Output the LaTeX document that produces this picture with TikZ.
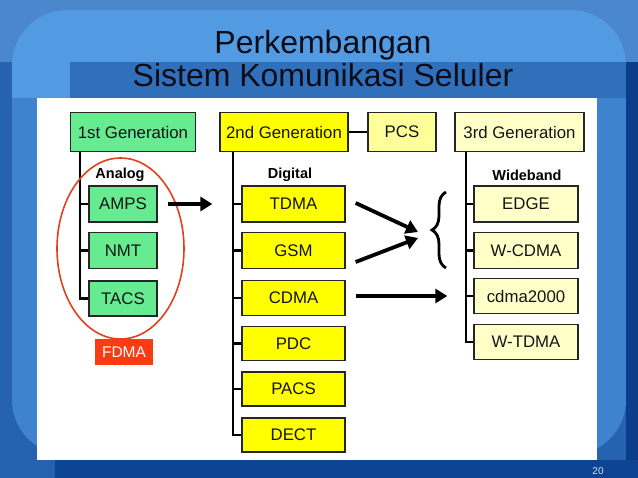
\documentclass[tikz,border=0pt]{standalone}
\usepackage{fontspec}
\setmainfont{Liberation Sans}
\usetikzlibrary{arrows.meta,shapes.geometric,decorations.pathreplacing}
\definecolor{bgbase}{HTML}{2563B0}
\definecolor{bgtop}{HTML}{4A87CC}
\definecolor{bgpanel}{HTML}{3F82CE}
\definecolor{bgpanellight}{HTML}{529AE2}
\definecolor{bgband}{HTML}{3070BA}
\definecolor{bgdark}{HTML}{0D4494}
\definecolor{bgnavy}{HTML}{0C3D88}
\definecolor{genGreen}{HTML}{66EB91}
\definecolor{genYellow}{HTML}{FFFF00}
\definecolor{genPale}{HTML}{FFFF99}
\definecolor{genCream}{HTML}{FFFFC8}
\definecolor{fdmaRed}{HTML}{FA3C12}
\definecolor{ringRed}{HTML}{E0401E}
\definecolor{boxline}{HTML}{262626}
\definecolor{textdark}{HTML}{151515}
\definecolor{titletext}{HTML}{0D0D1A}
\definecolor{pagenum}{HTML}{D0E0F5}
\begin{document}
\begin{tikzpicture}[x=1pt,y=-1pt,
  box/.style={draw=boxline, line width=1.3pt, minimum height=36pt, inner sep=0pt,
    font=\fontsize{16.8}{18}\selectfont, text=textdark},
  gbox/.style={box, fill=genGreen},
  ybox/.style={box, fill=genYellow},
  pbox/.style={box, fill=genPale},
  cbox/.style={box, fill=genCream},
  tree/.style={line width=2.9pt, black},
  arr/.style={line width=3.8pt, black, -{Triangle[length=12pt,width=14pt]}},
  cat/.style={font=\fontsize{14.5}{16}\selectfont\bfseries, text=black},
  ttl/.style={font=\fontsize{32}{34}\selectfont, text=titletext, anchor=base}
]
\useasboundingbox (0,0) rectangle (638,478);
% background
\fill[bgbase] (0,0) rectangle (638,478);
\fill[bgtop] (0,0) rectangle (638,62);
\fill[bgpanel, rounded corners=55pt] (12,10) rectangle (626,455);
\begin{scope}
  \clip (0,0) rectangle (638,62);
  \fill[bgpanellight, rounded corners=55pt] (12,10) rectangle (626,455);
\end{scope}
\fill[bgpanellight] (12,62) rectangle (70,98);
\fill[bgband] (70,62) rectangle (626,98);
\fill[bgnavy] (626,62) rectangle (638,478);
\fill[bgdark] (55,460) rectangle (638,478);
\fill[white] (37,98) rectangle (597,460);

% title
\node[ttl] (t1) at (323,54) {Perkembangan};
\node[ttl] (t2) at (323,87) {Sistem Komunikasi Seluler};
\node[font=\fontsize{10}{12}\selectfont, text=pagenum] (pg) at (598,471) {20};

% generation boxes
\node[gbox, minimum width=125pt, minimum height=39pt] (g1) at (133,132) {1st Generation};
\node[ybox, minimum width=128pt, minimum height=39pt] (g2) at (284,132) {2nd Generation};
\node[pbox, minimum width=68pt, minimum height=39pt] (pcs) at (402,132) {PCS};
\node[cbox, minimum width=129pt, minimum height=39pt] (g3) at (519.5,132) {3rd Generation};
\draw[line width=2.4pt] (g2.east) -- (pcs.west);

% category labels
\node[cat] (analog) at (120,175) {Analog};
\node[cat] (digital) at (290,175) {Digital};
\node[cat] (wide) at (527,175) {Wideband};

% column 1
\node[gbox, minimum width=68pt] (amps) at (123,204) {AMPS};
\node[gbox, minimum width=68pt] (nmt) at (123,250.5) {NMT};
\node[gbox, minimum width=68pt, minimum height=35pt] (tacs) at (123,298.5) {TACS};
\draw[tree] ([xshift=-53pt]g1.south) |- (tacs.west);
\draw[tree] ([xshift=-9pt]amps.west) -- (amps.west);
\draw[tree] ([xshift=-9pt]nmt.west) -- (nmt.west);

% column 2
\node[ybox, minimum width=103pt] (tdma) at (293.5,204) {TDMA};
\node[ybox, minimum width=103pt] (gsm) at (293.5,250.5) {GSM};
\node[ybox, minimum width=103pt, minimum height=35pt] (cdma) at (293.5,298) {CDMA};
\node[ybox, minimum width=103pt, minimum height=34pt] (pdc) at (293.5,343.5) {PDC};
\node[ybox, minimum width=103pt, minimum height=34pt] (pacs) at (293.5,389) {PACS};
\node[ybox, minimum width=103pt, minimum height=34pt] (dect) at (293.5,435) {DECT};
\draw[tree] ([xshift=-51pt]g2.south) |- (dect.west);
\foreach \n in {tdma,gsm,cdma,pdc,pacs}
  \draw[tree] ([xshift=-9pt]\n.west) -- (\n.west);

% column 3
\node[cbox, minimum width=104pt] (edge) at (526,204) {EDGE};
\node[cbox, minimum width=104pt] (wcdma) at (526,250.5) {W-CDMA};
\node[cbox, minimum width=104pt, minimum height=35pt] (c2k) at (526,296) {cdma2000};
\node[cbox, minimum width=104pt, minimum height=35pt] (wtdma) at (526,342) {W-TDMA};
\draw[tree] ([xshift=-53.5pt]g3.south) |- (wtdma.west);
\foreach \n in {edge,wcdma,c2k}
  \draw[tree] ([xshift=-8pt]\n.west) -- (\n.west);

% FDMA ring and label
\node[draw=ringRed, line width=1.6pt, ellipse, minimum width=127pt, minimum height=181pt, inner sep=0pt] (ring) at (120.5,248.5) {};
\node[fill=fdmaRed, text=white, minimum width=58pt, minimum height=26pt, inner sep=0pt,
  font=\fontsize{15.5}{17}\selectfont] (fdma) at (124,352) {FDMA};

% arrows
\coordinate (mt) at (418,232);
\coordinate (mb) at (418,238);
\draw[arr] ([xshift=10pt]amps.east) -- ([xshift=-29pt]tdma.west);
\draw[arr] ([xshift=10pt,yshift=1pt]tdma.east) -- (mt);
\draw[arr] ([xshift=10pt,yshift=-11.5pt]gsm.east) -- (mb);
\draw[arr] ([xshift=10pt]cdma.east |- c2k.west) -- ([xshift=-26pt]c2k.west);

% brace
\coordinate (bb) at (446,268);
\coordinate (bt) at (446,192);
\draw[line width=2.8pt, decorate, decoration={brace, amplitude=14pt}] (bb) -- (bt);
\end{tikzpicture}
\end{document}
